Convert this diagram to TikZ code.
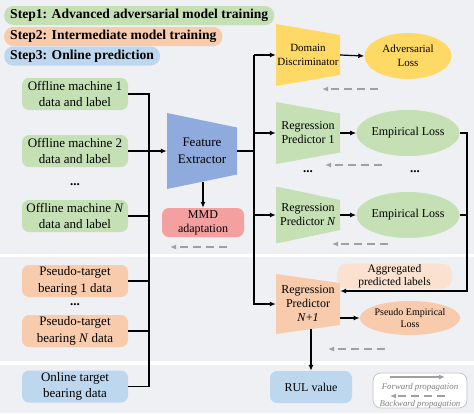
\documentclass[tikz,border=0pt]{standalone}
\usepackage{fontspec}
\setmainfont{Liberation Serif}
\usepackage{xcolor}
\usepackage{tikz}
\usetikzlibrary{arrows.meta,shapes.geometric,calc}

\definecolor{panelgray}{HTML}{EEF0F4}
\definecolor{stepgreen}{HTML}{C5E0B4}
\definecolor{steppeach}{HTML}{F8CBAD}
\definecolor{stepblue}{HTML}{BDD7EE}
\definecolor{feblue}{HTML}{8FAADC}
\definecolor{ddyellow}{HTML}{FFD966}
\definecolor{mmdred}{HTML}{F4A0A0}
\definecolor{agglight}{HTML}{FBE2D0}
\definecolor{backgray}{HTML}{A0A0A0}

\newcommand{\fsB}{\fontsize{13.6}{16}\selectfont}
\newcommand{\fsL}{\fontsize{13}{16.5}\selectfont}
\newcommand{\fsM}{\fontsize{12}{14}\selectfont}
\newcommand{\fsD}{\fontsize{11}{14}\selectfont}
\newcommand{\fsS}{\fontsize{10}{12}\selectfont}
\newcommand{\fsT}{\fontsize{8.8}{10}\selectfont}

\newcommand{\trapfill}{black}
\newcommand{\trapcut}{0pt}

\tikzset{
  steppill/.style={rounded corners=9pt, inner xsep=6pt, inner ysep=0pt,
    minimum height=19pt, font=\bfseries\fsB, anchor=west},
  box/.style={rounded corners=7pt, inner sep=1pt, align=center,
    minimum width=106pt, minimum height=32pt, font=\fsL},
  dots/.style={font=\bfseries\fsL, inner sep=0pt},
  trapfill/.store in=\trapfill,
  trapcut/.store in=\trapcut,
  trap/.style={inner sep=0pt, align=center, minimum width=64pt,
    path picture={\fill[\trapfill] (path picture bounding box.north west)
      -- (path picture bounding box.south west)
      -- ([yshift=\trapcut]path picture bounding box.south east)
      -- ([yshift=-\trapcut]path picture bounding box.north east) -- cycle;}},
  lossell/.style={ellipse, inner sep=0pt, align=center,
    minimum width=86pt, minimum height=46pt, font=\fsM},
  conn/.style={line width=1.2pt, black},
  backarr/.style={line width=1.3pt, backgray, dash pattern=on 8pt off 5pt, ->},
  legtext/.style={font=\itshape\fsT, text=gray, inner sep=0pt}
}

\begin{document}
\begin{tikzpicture}[x=1pt,y=-1pt,>={Latex[length=6pt,width=5pt]}]

\useasboundingbox (0,0) rectangle (474,413);

% panels
\fill[panelgray] (0,0) rectangle (474,254);
\fill[panelgray] (0,257) rectangle (474,361);
\fill[panelgray] (0,365) rectangle (474,413);

% steps
\node[steppill, fill=stepgreen] (s1) at (4,15.5) {Step1: Advanced adversarial model training};
\node[steppill, fill=steppeach] (s2) at (4,36.5) {Step2: Intermediate model training};
\node[steppill, fill=stepblue] (s3) at (4,56) {Step3: Online prediction};

% input data
\node[box, fill=stepgreen] (off1) at (75,94) {Offline machine 1\\data and label};
\node[box, fill=stepgreen] (off2) at (75,151) {Offline machine 2\\data and label};
\node[dots] (dotsL) at (75,185) {...};
\node[box, fill=stepgreen] (offN) at (75,216) {Offline machine \textit{N}\\data and label};
\node[box, fill=steppeach] (ps1) at (75,281) {Pseudo-target\\bearing 1 data};
\node[dots] (dotsP) at (75,305) {...};
\node[box, fill=steppeach] (psN) at (75,331) {Pseudo-target\\bearing \textit{N} data};
\node[box, fill=stepblue] (online) at (75,386.5) {Online target\\bearing data};

% feature extractor
\node[trap, trapfill=feblue, trapcut=14.5pt, minimum width=70pt, minimum height=76pt, font=\fsL] (fe) at (202,151) {Feature\\Extractor};
\node[box, fill=mmdred, minimum width=82pt, minimum height=29pt, font=\fsM] (mmd) at (203,222.5) {MMD\\adaptation};

% heads
\node[trap, trapfill=ddyellow, trapcut=11pt, minimum height=62pt, font=\fsD] (dd) at (308,55) {Domain\\Discriminator};
\node[lossell, fill=ddyellow, minimum width=87pt, font=\fsD] (adv) at (408,56) {Adversarial\\Loss};

\node[trap, trapfill=stepgreen, trapcut=11.5pt, minimum height=62pt, font=\fsM] (rp1) at (308,133) {Regression\\Predictor 1};
\node[lossell, fill=stepgreen] (emp1) at (408,133) {Empirical Loss};
\node[dots] (dotsR1) at (308,172) {...};
\node[dots] (dotsR2) at (415,172) {...};
\node[trap, trapfill=stepgreen, trapcut=13.5pt, minimum height=57pt, font=\fsM] (rpN) at (308,215) {Regression\\Predictor \textit{N}};
\node[lossell, fill=stepgreen] (empN) at (408,215) {Empirical Loss};

\node[fill=agglight, rounded corners=10pt, minimum width=115pt, minimum height=25pt, inner sep=0pt, align=center, font=\fontsize{11.5}{13}\selectfont] (agg) at (394.5,276) {Aggregated\\predicted labels};
\node[trap, trapfill=steppeach, trapcut=9pt, minimum height=60pt, font=\fsM] (rpn1) at (308,304) {Regression\\Predictor\\\textit{N}+\textit{1}};
\node[lossell, fill=steppeach, minimum width=87pt, minimum height=34pt, font=\fsS] (pel) at (410,318) {Pseudo Empirical\\Loss};

\node[box, fill=stepblue, minimum width=82pt, minimum height=32pt, font=\fsM] (rul) at (311,387) {RUL value};

% left bus
\coordinate (lbus) at (149,94);
\draw[conn] (off1.east) -- (lbus) -- (lbus |- online.east) -- (online.east);
\draw[conn] (offN.east) -- (offN.east -| lbus);
\draw[conn] (ps1.east) -- (ps1.east -| lbus);
\draw[conn] (psN.east) -- (psN.east -| lbus);
\draw[conn,->] (off2.east) -- (fe.west);
\draw[conn,->] ([yshift=7pt]fe.south -| mmd.north) -- (mmd.north);

% right bus
\coordinate (rbus) at (254,55);
\draw[conn] (fe.east) -- (fe.east -| rbus);
\draw[conn,->] (rbus) -- (rbus |- rpn1.west) -- (rpn1.west);
\draw[conn,->] (rbus) -- (dd.west);
\draw[conn,->] (rp1.west -| rbus) -- (rp1.west);
\draw[conn,->] (rpN.west -| rbus) -- (rpN.west);

\draw[conn,->] (dd.east) -- (adv.west);
\draw[conn,->] (rp1.east) -- (emp1.west);
\draw[conn,->] (rpN.east) -- (empN.west);

% aggregation
\coordinate (colX) at (467,133);
\coordinate (aggIn) at ([yshift=13pt]rpn1.east);
\draw[conn,->] (emp1.east) -- (colX) -- (colX |- aggIn) -- (aggIn);
\draw[conn] (empN.east) -- (empN.east -| colX);
\draw[conn,->] (pel.west -| rpn1.east) -- (pel.west);
\draw[conn,->] ([yshift=5pt]rpn1.south -| rul.north) -- (rul.north);

% backward propagation
\foreach \n/\xa/\xb/\yy in {mmd/227/170/247, adv/378/322/89, rpa/382/325/165,
    rpb/388/332/244, rpc/385/328/349}{
  \coordinate (\n bs) at (\xa,\yy);
  \coordinate (\n be) at (\xb,\yy);
  \draw[backarr] (\n bs) -- (\n be);
}

% legend
\node[draw=gray!45, line width=0.8pt, rounded corners=8pt, fill=white, minimum width=94pt, minimum height=35pt] (legend) at (420,390.5) {};
\coordinate (fwdA) at (390,377);
\coordinate (fwdB) at (445,377);
\draw[line width=1.3pt, backgray, ->] (fwdA) -- (fwdB);
\node[legtext] (fwdtxt) at (420,387) {Forward propagation};
\coordinate (bwdA) at (445,396);
\coordinate (bwdB) at (390,396);
\draw[backarr] (bwdA) -- (bwdB);
\node[legtext] (bwdtxt) at (420,404) {Backward propagation};

\end{tikzpicture}
\end{document}
